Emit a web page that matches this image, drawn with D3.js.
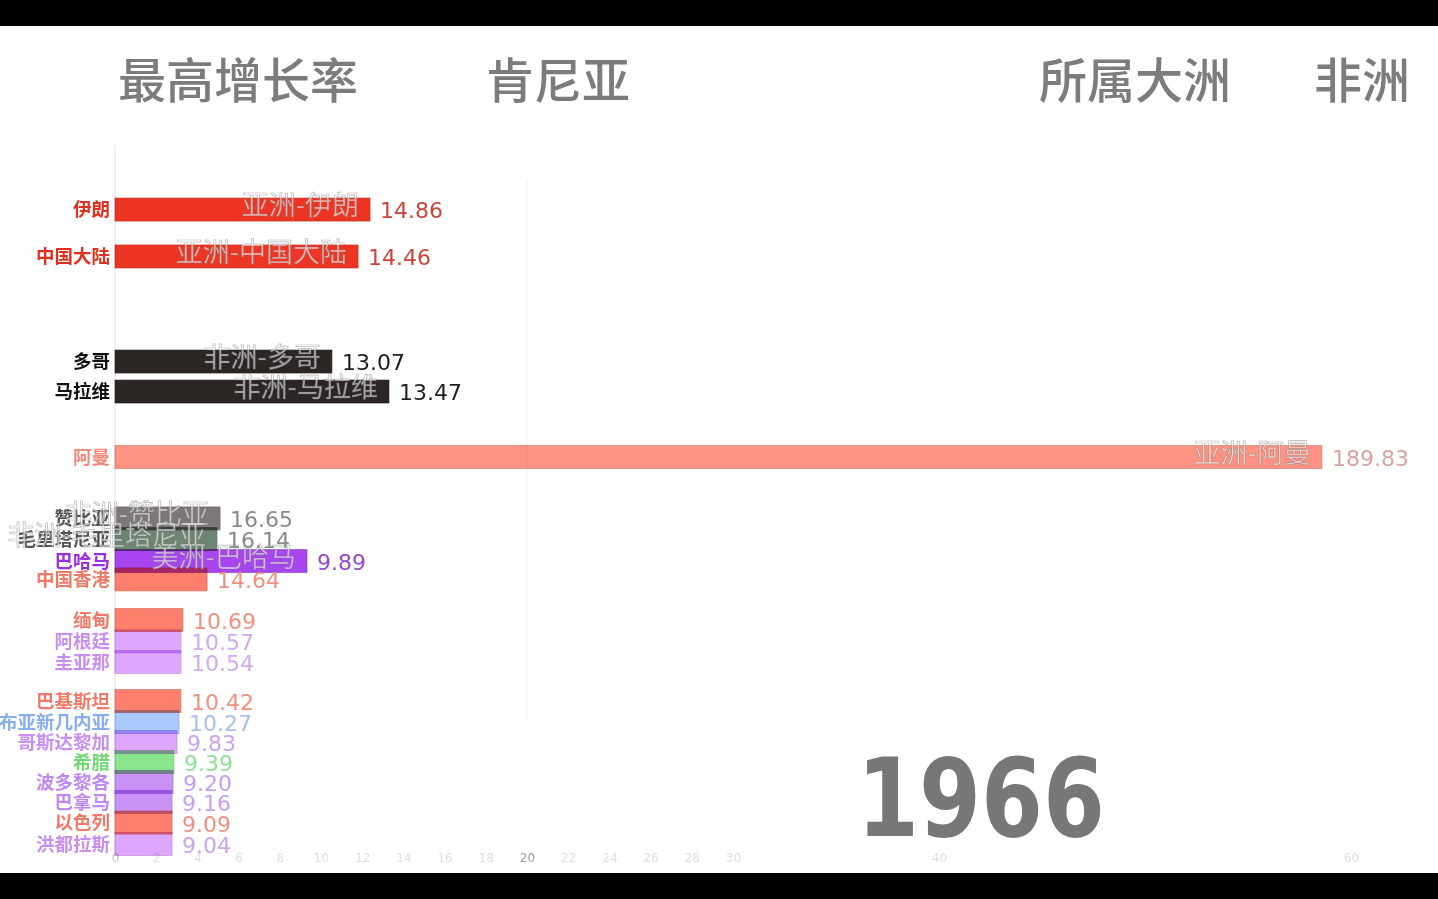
<!DOCTYPE html>
<html>
<head>
<meta charset="utf-8">
<script src="https://cdn.jsdelivr.net/npm/d3@7/dist/d3.min.js"></script>
<style>
  html, body { margin: 0; padding: 0; background: #000; }
  svg { display: block; }
</style>
</head>
<body>
<script>
// ---- data (one transitional frame of a bar-chart race, year 1966) ----
const countries = ["伊朗","中国大陆","多哥","马拉维","阿曼","赞比亚","毛里塔尼亚","巴哈马","中国香港","缅甸",
                   "阿根廷","圭亚那","巴基斯坦","巴布亚新几内亚","哥斯达黎加","希腊","波多黎各","巴拿马","以色列","洪都拉斯"];
const continents = ["亚洲","亚洲","非洲","非洲","亚洲","非洲","非洲","美洲","亚洲","亚洲",
                    "美洲","美洲","亚洲","大洋洲","美洲","欧洲","美洲","美洲","亚洲","美洲"];
// value shown in the label
const labelValues = [14.86,14.46,13.07,13.47,189.83,16.65,16.14,9.89,14.64,10.69,
                     10.57,10.54,10.42,10.27,9.83,9.39,9.20,9.16,9.09,9.04];
// bar length at this moment of the animation (axis units)
const barValues = [12.38,11.80,10.53,13.30,58.59,5.10,4.95,9.32,4.47,3.30,
                   3.20,3.20,3.20,3.11,3.01,2.86,2.82,2.77,2.77,2.77];
// interpolated rank (row position) at this moment
const ranks = [2.90,5.20,10.35,11.82,15.03,18.04,19.05,20.13,21.03,23.02,
               24.07,25.08,26.99,28.02,29.00,29.98,30.96,31.94,32.95,34.00];
// rows whose in-bar "continent-country" caption is still visible
const captioned = ["伊朗","中国大陆","多哥","马拉维","阿曼","赞比亚","毛里塔尼亚","巴哈马"];
const tickValues = [0,2,4,6,8,10,12,14,16,18,20,22,24,26,28,30,40,60];
const titleLeft = "最高增长率", titleLeader = "肯尼亚";
const titleRight = "所属大洲", titleContinent = "非洲";
const year = "1966";

// ---- styles ----
const colorOf = {
  "伊朗":"#ee3524","中国大陆":"#ee3524","多哥":"#2b2523","马拉维":"#2b2523","阿曼":"#ff9383",
  "赞比亚":"#7d777c","毛里塔尼亚":"#6f8573","巴哈马":"#a745ee","中国香港":"#ff7f6c","缅甸":"#ff7f6c",
  "阿根廷":"#dfa6ff","圭亚那":"#dfa6ff","巴基斯坦":"#ff7f6c","巴布亚新几内亚":"#a9c9fb","哥斯达黎加":"#dfa6ff",
  "希腊":"#8be58d","波多黎各":"#c992f5","巴拿马":"#c992f5","以色列":"#ff7f6c","洪都拉斯":"#dfa6ff"
};
const labelColorOf = {
  "伊朗":"#e0301e","中国大陆":"#e0301e","多哥":"#111111","马拉维":"#111111","阿曼":"#f08a7a",
  "赞比亚":"#555555","毛里塔尼亚":"#555555","巴哈马":"#9a2ee0","中国香港":"#f07a68","缅甸":"#f07a68",
  "阿根廷":"#c88ff0","圭亚那":"#c88ff0","巴基斯坦":"#f07a68","巴布亚新几内亚":"#88aef0","哥斯达黎加":"#c88ff0",
  "希腊":"#72d874","波多黎各":"#c088f0","巴拿马":"#c088f0","以色列":"#f07a68","洪都拉斯":"#c88ff0"
};
const valueColorOf = {
  "伊朗":"#c8463a","中国大陆":"#c8463a","多哥":"#1e1e1e","马拉维":"#1e1e1e","阿曼":"#d9a2a2",
  "赞比亚":"#8a8a8a","毛里塔尼亚":"#8a8a8a","巴哈马":"#9548c8","中国香港":"#f0907e","缅甸":"#f0907e",
  "阿根廷":"#d2aaf2","圭亚那":"#d2aaf2","巴基斯坦":"#f0907e","巴布亚新几内亚":"#a6c0ea","哥斯达黎加":"#caa4ee",
  "希腊":"#90e092","波多黎各":"#c6a0ee","巴拿马":"#c6a0ee","以色列":"#f0907e","洪都拉斯":"#caa4ee"
};

const W = 1438, H = 899;
const svg = d3.select("body").append("svg").attr("width", W).attr("height", H);

// frame: black bands top and bottom, white plot area
svg.append("rect").attr("x",0).attr("y",0).attr("width",W).attr("height",H).attr("fill","#000");
svg.append("rect").attr("x",0).attr("y",26).attr("width",W).attr("height",847).attr("fill","#fff");

const cjk = "'Noto Sans CJK SC','Noto Sans',sans-serif";
const latin = "'DejaVu Sans',sans-serif";

const x = d3.scaleLinear().domain([0, 60]).range([115, 1351]);
const y = d3.scaleLinear().domain([0, 34]).range([150.4, 844]);
const barH = 23;

// titles
const tg = svg.append("g").attr("font-family", cjk).attr("font-size", 48)
  .attr("font-weight", 500).attr("fill", "#7c7c7c");
tg.append("text").attr("x", 118).attr("y", 98).text(titleLeft);
tg.append("text").attr("x", 486).attr("y", 98).text(titleLeader);
tg.append("text").attr("x", 1039).attr("y", 98).text(titleRight);
tg.append("text").attr("x", 1314).attr("y", 98).text(titleContinent);

// baseline and faint gridline at 20
svg.append("line").attr("x1", x(0)).attr("x2", x(0)).attr("y1", 145).attr("y2", 856)
  .attr("stroke", "#e6e6e6").attr("stroke-width", 1.2);
svg.append("line").attr("x1", x(20)).attr("x2", x(20)).attr("y1", 180).attr("y2", 720)
  .attr("stroke", "#f2f2f2").attr("stroke-width", 1.2);

// x axis (labels only)
const axis = d3.axisBottom(x).tickValues(tickValues).tickSize(0).tickPadding(0).tickFormat(d3.format("d"));
const ax = svg.append("g").attr("transform", "translate(0,853)").call(axis);
ax.select(".domain").remove();
ax.selectAll("text")
  .attr("font-family", latin).attr("font-size", 12).attr("dy", "0.71em")
  .attr("fill", d => d === 20 ? "#9a9a9a" : (d === 0 ? "#c4c4c4" : "#dedede"));

const rows = countries.map((c, i) => ({
  name: c, continent: continents[i], label: labelValues[i], bar: barValues[i], rank: ranks[i]
}));

// bars
const bars = svg.append("g");
bars.selectAll("rect").data(rows).join("rect")
  .attr("x", x(0))
  .attr("y", d => y(d.rank) - barH / 2)
  .attr("width", d => x(d.bar) - x(0))
  .attr("height", barH)
  .attr("fill", d => colorOf[d.name])
  .attr("stroke", d => d3.color(colorOf[d.name]).darker(0.6))
  .attr("stroke-width", 1)
  .attr("stroke-opacity", 0.6)
  .style("mix-blend-mode", "multiply");

// left country labels
svg.append("g").selectAll("text").data(rows).join("text")
  .attr("x", 110)
  .attr("y", d => y(d.rank))
  .attr("dy", "0.36em")
  .attr("text-anchor", "end")
  .attr("font-family", cjk).attr("font-weight", "bold").attr("font-size", 18.5)
  .attr("fill", d => labelColorOf[d.name])
  .text(d => d.name);

// in-bar captions
svg.append("g").selectAll("text").data(rows.filter(d => captioned.includes(d.name))).join("text")
  .attr("x", d => x(d.bar) - 11)
  .attr("y", d => y(d.rank) - 4)
  .attr("dy", "0.36em")
  .attr("text-anchor", "end")
  .attr("font-family", cjk).attr("font-size", 27)
  .attr("fill", "#ffffff").attr("fill-opacity", 0.6)
  .attr("stroke", "#6a6a6a").attr("stroke-width", 0.7).attr("stroke-opacity", 0.5)
  .text(d => d.continent + "-" + d.name);

// value labels
svg.append("g").selectAll("text").data(rows).join("text")
  .attr("x", d => x(d.bar) + 10)
  .attr("y", d => y(d.rank) + 1)
  .attr("dy", "0.36em")
  .attr("font-family", latin).attr("font-size", 22)
  .attr("fill", d => valueColorOf[d.name])
  .text(d => d.label.toFixed(2));

// year
svg.append("text")
  .attr("x", 857).attr("y", 836)
  .attr("font-family", latin).attr("font-weight", "bold").attr("font-size", 108)
  .attr("textLength", 248).attr("lengthAdjust", "spacingAndGlyphs")
  .attr("fill", "#777777")
  .text(year);
</script>
</body>
</html>
